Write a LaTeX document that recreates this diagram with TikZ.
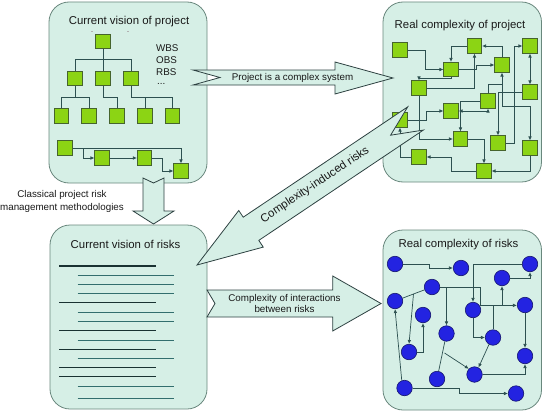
\documentclass[tikz,border=0pt]{standalone}
\usepackage{fontspec}
\setmainfont{Liberation Sans}
\usetikzlibrary{arrows.meta}
\definecolor{boxfill}{RGB}{214,239,230}
\definecolor{boxline}{RGB}{105,135,125}
\definecolor{afill}{RGB}{214,239,230}
\definecolor{aline}{RGB}{45,65,65}
\definecolor{gfill}{RGB}{140,212,20}
\definecolor{gline}{RGB}{70,100,45}
\definecolor{bfill}{RGB}{35,35,225}
\definecolor{bline}{RGB}{20,20,110}
\definecolor{connc}{RGB}{45,80,80}
\definecolor{darkl}{RGB}{25,50,50}
\definecolor{tealL}{RGB}{50,110,110}
\definecolor{txt}{RGB}{25,25,25}
\begin{document}
\begin{tikzpicture}[x=1pt,y=-1pt,
  panel/.style={draw=boxline, fill=boxfill, line width=0.8pt, rounded corners=20pt, inner sep=0pt},
  title/.style={font=\fontsize{11.4}{13}\selectfont, text=txt, inner sep=0pt},
  lab/.style={font=\fontsize{9.8}{11}\selectfont, text=txt, align=center, inner sep=0pt},
  sq/.style={draw=gline, fill=gfill, minimum size=14.5pt, inner sep=0pt, line width=0.6pt},
  cir/.style={circle, draw=bline, fill=bfill, minimum size=15.5pt, inner sep=0pt, line width=0.6pt},
  ln/.style={draw=connc, line width=0.7pt},
  conn/.style={draw=connc, line width=0.7pt, -{Latex[length=4pt,width=3.6pt]}},
  dconn/.style={draw=connc, line width=0.7pt, {Latex[length=4pt,width=3.6pt]}-{Latex[length=4pt,width=3.6pt]}},
  bigarrow/.style={fill=afill, draw=aline, line width=0.8pt, line join=miter},
  dl/.style={draw=darkl, line width=1.3pt},
  tl/.style={draw=tealL, line width=0.8pt}]
\useasboundingbox (0,0) rectangle (543,412);

% ---------- panels ----------
\node[panel, minimum width=158pt, minimum height=181pt] (b1) at (128,92.5) {};
\node[panel, minimum width=158.5pt, minimum height=180pt] (b2) at (462.25,92) {};
\node[panel, minimum width=157pt, minimum height=184pt] (b3) at (128.5,317) {};
\node[panel, minimum width=158.5pt, minimum height=180pt] (b4) at (462.25,320) {};

\node[title] (t1) at (129,22) {Current vision of project};
\node[title] (t2) at (460,26) {Real complexity of project};
\node[title] (t3) at (125.5,244) {Current vision of risks};
\node[title] (t4) at (458.5,245) {Real complexity of risks};

\draw[gray!60, line width=0.6pt] (91,31) -- (93,31) (127,31) -- (129,31);

% ---------- current vision of project ----------
\node[sq] (r0) at (103,41.5) {};
\node[sq] (a1) at (75,78.5) {};
\node[sq] (a2) at (103,78.5) {};
\node[sq] (a3) at (131,78.5) {};
\node[sq] (l1) at (61.5,116) {};
\node[sq] (l2) at (89,116) {};
\node[sq] (l3) at (117,116) {};
\node[sq] (l4) at (145,116) {};
\node[sq] (l5) at (172.5,116) {};
\draw[ln] (r0.south) -- (a2.north);
\draw[ln] (a1.north) -- (75,59) -- (131,59) -- (a3.north);
\draw[ln] (a1.south) -- (75,97);
\draw[ln] (l1.north) -- (61.5,97) -- (89,97) -- (l2.north);
\draw[ln] (a2.south) |- (117,97) -- (l3.north);
\draw[ln] (a3.south) -- (131,97) -- (172.5,97) -- (l5.north);
\draw[ln] (145,97) -- (l4.north);

\node[lab, anchor=west] (w1) at (156,48) {WBS};
\node[lab, anchor=west] (w2) at (156,60) {OBS};
\node[lab, anchor=west] (w3) at (156,72) {RBS};
\node[lab, anchor=west] (w4) at (157,84) {...};

\node[sq] (fa) at (65,148) {};
\node[sq] (fb) at (102,158) {};
\node[sq] (fc) at (144.5,158) {};
\node[sq] (fd) at (181,171) {};
\draw[conn] (fa.east) -- (181,148) -- (fd.north);
\draw[conn] (83,148) |- (fb.west);
\draw[conn] (fb.east) -- (fc.west);
\draw[conn] (fc.east) -- (162,158) |- (fd.west);

% ---------- real complexity of project ----------
\node[sq] (p1) at (400,50) {};
\node[sq] (p2) at (474.5,46) {};
\node[sq] (p3) at (530,46) {};
\node[sq] (p4) at (451,69.5) {};
\node[sq] (p5) at (502,65) {};
\node[sq] (p6) at (419,88) {};
\node[sq] (p7) at (530,92) {};
\node[sq] (p8) at (488,101) {};
\node[sq] (p9) at (451,111) {};
\node[sq] (p10) at (400,120) {};
\node[sq] (p11) at (460.5,139) {};
\node[sq] (p12) at (498,143) {};
\node[sq] (p13) at (530,148) {};
\node[sq] (p14) at (419,157) {};
\node[sq] (p15) at (484,171) {};
\draw[conn] (p1.east) -- (425,50) |- (p4.west);
\draw[conn] (p2.west) -| (p4.north);
\draw[conn] (p5.north) |- (p2.east);
\draw[conn] (p4.east) -- (476.5,69.5) |- (p5.west);
\draw[conn] (p4.south) -- (451,78) -| (p6.north);
\draw[conn] (p6.east) -| (p2.south);
\draw[dconn] (p3.south) -- (p7.north);
\draw[conn] (p12.east) -- (514,143) |- (p3.west);
\draw[conn] (p6.south) |- (p11.west);
\draw[conn] (p10.east) -- (426,120) |- (p9.west);
\draw[conn] (p8.north) -- (488,84) -| (p5.south);
\draw[conn] (p7.west) -| (p12.north);
\draw[conn] (502,84) -- (502,106) -| (p13.north);
\draw[conn] (p8.west) -| (p11.north);
\draw[dconn] (p9.east) -| (p8.south);
\draw[conn] (p11.east) -| (p15.north);
\draw[conn] (p13.south) |- (p15.east);
\draw[conn] (p15.west) -- (451,171) |- (p14.east);
\draw[conn] (p14.west) -| (p10.south);

% ---------- current vision of risks ----------
\foreach \yy in {266,302.7,330.7,349.3,367.3,376.7}
  \draw[dl] (59.3,\yy) -- (155.7,\yy);
\foreach \yy in {275.3,284.7,293.7,312.3,321.7,340.3,358.7,386,398.3}
  \draw[tl] (77.7,\yy) -- (174.3,\yy);

% ---------- real complexity of risks ----------
\node[cir] (c1) at (395,264) {};
\node[cir] (c2) at (461,268) {};
\node[cir] (c3) at (530,264) {};
\node[cir] (c4) at (502,278) {};
\node[cir] (c5) at (432,287) {};
\node[cir] (c6) at (395,301) {};
\node[cir] (c7) at (525,305) {};
\node[cir] (c8) at (473,310) {};
\node[cir] (c9) at (423,315) {};
\node[cir] (c10) at (446.5,333.5) {};
\node[cir] (c11) at (493,337.5) {};
\node[cir] (c12) at (409,352) {};
\node[cir] (c13) at (525,356) {};
\node[cir] (c14) at (474.5,374.5) {};
\node[cir] (c15) at (437,379) {};
\node[cir] (c16) at (404.5,388) {};
\node[cir] (c17) at (516,393.5) {};
\draw[conn] (c1.east) -- (429,264) |- (c2.west);
\draw[conn] (c3.west) -| (c8.north);
\draw[conn] (c4.east) -| (c3.south);
\draw[conn] (c11.north) -- (493,305.5) -- (502,305.5) -- (c4.south);
\draw[ln] (c5.east) -- (480,287) -- (480,305.5);
\draw[conn] (c8.35) -- (c7.west |- c8.35);
\draw[conn] (446.5,287) -- (c10.north);
\draw[ln] (c6) -- (c5);
\draw[conn] (413.5,294) -- (c12.north);
\draw[conn] (c12.east) -| (c9.south);
\draw[conn] (c16.110) -- (c6.south);
\draw[conn] (c16.east) -- (459,388) |- (c17.west);
\draw[ln] (c15) -- (c10);
\draw[conn] (444.5,353) -- (c14.north west);
\draw[conn] (c11.240) -- (c14.60);
\draw[conn] (c14.east) -| (c13.south);
\draw[conn] (c7.south) -- (c13.north);
\draw[conn] (c8.south) |- (c11.west);

% ---------- big arrows ----------
\draw[bigarrow] (193,70) -- (335,70) -- (335,62) -- (393,78) -- (335,94) -- (335,85) -- (193,85) -- (220,77.5) -- cycle;
\node[lab] (x1) at (292.5,78) {Project is a complex system};

\draw[bigarrow] (143,178) -- (153.5,183) -- (164,178) -- (164,211) -- (174,211) -- (153.5,224) -- (133,211) -- (143,211) -- cycle;
\node[lab, font=\fontsize{9.8}{13}\selectfont] (x2) at (62,201.5) {Classical project risk\\management methodologies};

\draw[bigarrow] (197,265) -- (238.75,210.5) -- (243.2,217.2) -- (407.7,106.9) -- (390.6,135.2) -- (423.3,130.1) -- (258.8,240.4) -- (263.25,247.1) -- cycle;
\node[lab, font=\fontsize{11.5}{13}\selectfont, rotate=33.8] (x3) at (315,185) {Complexity-induced risks};

\draw[bigarrow] (207,290) -- (332.7,290) -- (332.7,276) -- (381,303.5) -- (332.7,331) -- (332.7,317) -- (207,317) -- (215,303.5) -- cycle;
\node[lab] (x4) at (284.5,303.5) {Complexity of interactions\\between risks};
\end{tikzpicture}
\end{document}
